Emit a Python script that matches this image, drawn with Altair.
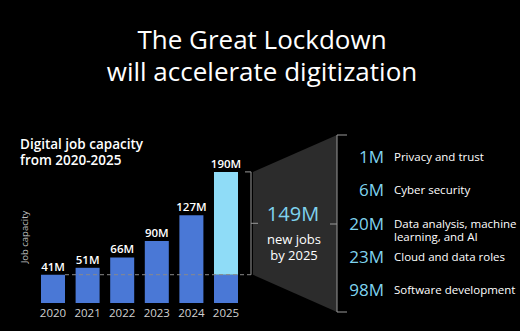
import altair as alt
import pandas as pd

# ---- data ----
years = ["2020", "2021", "2022", "2023", "2024", "2025"]
capacity = [41, 51, 66, 90, 127, 190]          # millions of digital jobs
role_values = [1, 6, 20, 23, 98]               # new jobs by 2025, millions
role_labels = ["Privacy and trust", "Cyber security",
               "Data analysis, machine\nlearning, and AI",
               "Cloud and data roles", "Software development"]
title_lines = ["The Great Lockdown", "will accelerate digitization"]
subtitle_lines = ["Digital job capacity", "from 2020-2025"]

FONT = "Open Sans"
BLUE = "#4a78d6"
LIGHT = "#8fdcf7"
NUM = "#7fd3ef"
GREY = "#9a9a9a"

base = capacity[0]
new_total = capacity[-1] - base

# ---- tables ----
segs = []
for y, v in zip(years, capacity):
    if y == years[-1]:
        segs.append({"year": y, "lo": 0, "hi": base, "part": "base"})
        segs.append({"year": y, "lo": base, "hi": v, "part": "new"})
    else:
        segs.append({"year": y, "lo": 0, "hi": v, "part": "base"})
seg_df = pd.DataFrame(segs)
bar_df = pd.DataFrame({"year": years, "value": capacity})
roles_df = pd.DataFrame({"row": list(range(len(role_values))),
                         "n": role_values, "label": role_labels})

# scales (pixel ranges = layout)
Y = alt.Scale(domain=[0, 200], range=[303, 165], nice=False, zero=False)
X = alt.Scale(domain=years, range=[35.7, 243.3], paddingInner=0.306, paddingOuter=0.153)

one = pd.DataFrame({"k": [0]})

# funnel shape: left edge spans the new jobs, right edge the role list
funnel = pd.DataFrame({"t": [0, 1],
                       "lo": [base, -13],
                       "hi": [capacity[-1], 243.5]})
trap = alt.Chart(funnel).mark_area(color="#2c2c2c").encode(
    x=alt.X("t:Q", scale=alt.Scale(domain=[0, 1], range=[253, 337]), axis=None),
    y=alt.Y("lo:Q", scale=Y, axis=None),
    y2="hi:Q",
)

bars = alt.Chart(seg_df).mark_bar().encode(
    x=alt.X("year:N", scale=X, sort=years,
            axis=alt.Axis(title=None, orient="bottom", offset=-28, domain=False, ticks=False,
                          labelPadding=4, labelFont=FONT, labelFontSize=11.5,
                          labelColor="#d0d0d0", labelAngle=0)),
    y=alt.Y("lo:Q", scale=Y, axis=None),
    y2="hi:Q",
    color=alt.Color("part:N", scale=alt.Scale(domain=["base", "new"], range=[BLUE, LIGHT]),
                    legend=None),
)

vlabels = alt.Chart(bar_df).transform_calculate(t="datum.value + 'M'").mark_text(
    font=FONT, fontSize=11.5, fontWeight=600, color="white", baseline="alphabetic", dy=-4
).encode(
    x=alt.X("year:N", scale=X, sort=years, axis=None),
    y=alt.Y("value:Q", scale=Y, axis=None),
    text="t:N",
)

dash = alt.Chart(pd.DataFrame({"v": [base]})).mark_rule(
    color="#8a8a8a", strokeDash=[4, 3], strokeWidth=1
).encode(x=alt.value(65), x2=alt.value(251), y=alt.Y("v:Q", scale=Y, axis=None))

# left bracket (spans 2020 level to 2025 level)
lb = pd.DataFrame({"a": [base], "b": [capacity[-1]], "m": [(base + capacity[-1]) / 2]})
lb_v = alt.Chart(lb).mark_rule(color=GREY).encode(
    x=alt.value(251), y=alt.Y("a:Q", scale=Y, axis=None), y2="b:Q")
lb_top = alt.Chart(lb).mark_rule(color=GREY).encode(
    x=alt.value(245), x2=alt.value(251), y=alt.Y("b:Q", scale=Y, axis=None))
lb_mid = alt.Chart(lb).mark_rule(color=GREY).encode(
    x=alt.value(251), x2=alt.value(258), y=alt.Y("m:Q", scale=Y, axis=None))

# right bracket
rb_v = alt.Chart(one).mark_rule(color=GREY).encode(
    x=alt.value(337), y=alt.value(135), y2=alt.value(312))
rb_t = alt.Chart(one).mark_rule(color=GREY).encode(
    x=alt.value(337), x2=alt.value(347), y=alt.value(135))
rb_b = alt.Chart(one).mark_rule(color=GREY).encode(
    x=alt.value(337), x2=alt.value(347), y=alt.value(312))
rb_m = alt.Chart(one).mark_rule(color=GREY).encode(
    x=alt.value(330), x2=alt.value(337), y=alt.value(224))

total_txt = alt.Chart(pd.DataFrame({"t": [f"{new_total}M"]})).mark_text(
    font=FONT, fontSize=20, color=NUM, align="center", baseline="middle"
).encode(x=alt.value(293), y=alt.value(215), text="t:N")
total_sub = alt.Chart(one).mark_text(
    font=FONT, fontSize=13, color="white", align="center", baseline="middle", lineHeight=16
).encode(x=alt.value(294), y=alt.value(240), text=alt.value(["new jobs", "by 2025"]))

rows = list(range(len(role_values)))
RY = alt.Scale(type="point", domain=rows, range=[158, 291], padding=0)
role_num = alt.Chart(roles_df).transform_calculate(t="datum.n + 'M'").mark_text(
    font=FONT, fontSize=17, color=NUM, align="right", baseline="middle"
).encode(x=alt.value(384), y=alt.Y("row:O", scale=RY, axis=None), text="t:N")
role_lab = alt.Chart(roles_df).mark_text(
    font=FONT, fontSize=11.5, color="white", align="left", baseline="middle",
    lineBreak="\n", lineHeight=13
).encode(x=alt.value(394), y=alt.Y("row:O", scale=RY, axis=None), text="label:N")

title = alt.Chart(one).mark_text(
    font=FONT, fontSize=26, color="white", align="center", baseline="alphabetic",
    lineHeight=32
).encode(x=alt.value(262), y=alt.value(49), text=alt.value(title_lines))

subtitle = alt.Chart(one).mark_text(
    font=FONT, fontSize=13.5, fontWeight=600, color="white", align="left",
    baseline="alphabetic", lineHeight=16
).encode(x=alt.value(20), y=alt.value(149), text=alt.value(subtitle_lines))

ylab = alt.Chart(one).mark_text(
    font=FONT, fontSize=9.5, color="#bdbdbd", angle=270, align="center", baseline="middle"
).encode(x=alt.value(25), y=alt.value(237), text=alt.value("Job capacity"))

chart = alt.layer(
    trap, bars, dash, lb_v, lb_top, lb_mid, rb_v, rb_t, rb_b, rb_m,
    vlabels, total_txt, total_sub, role_num, role_lab, title, subtitle, ylab
).resolve_scale(x="independent", y="independent").properties(
    width=520, height=331, background="black", padding=0,
    autosize=alt.AutoSizeParams(type="none")
).configure_view(stroke=None)

chart.save("out.html", embed_options={"renderer": "svg", "actions": False})
